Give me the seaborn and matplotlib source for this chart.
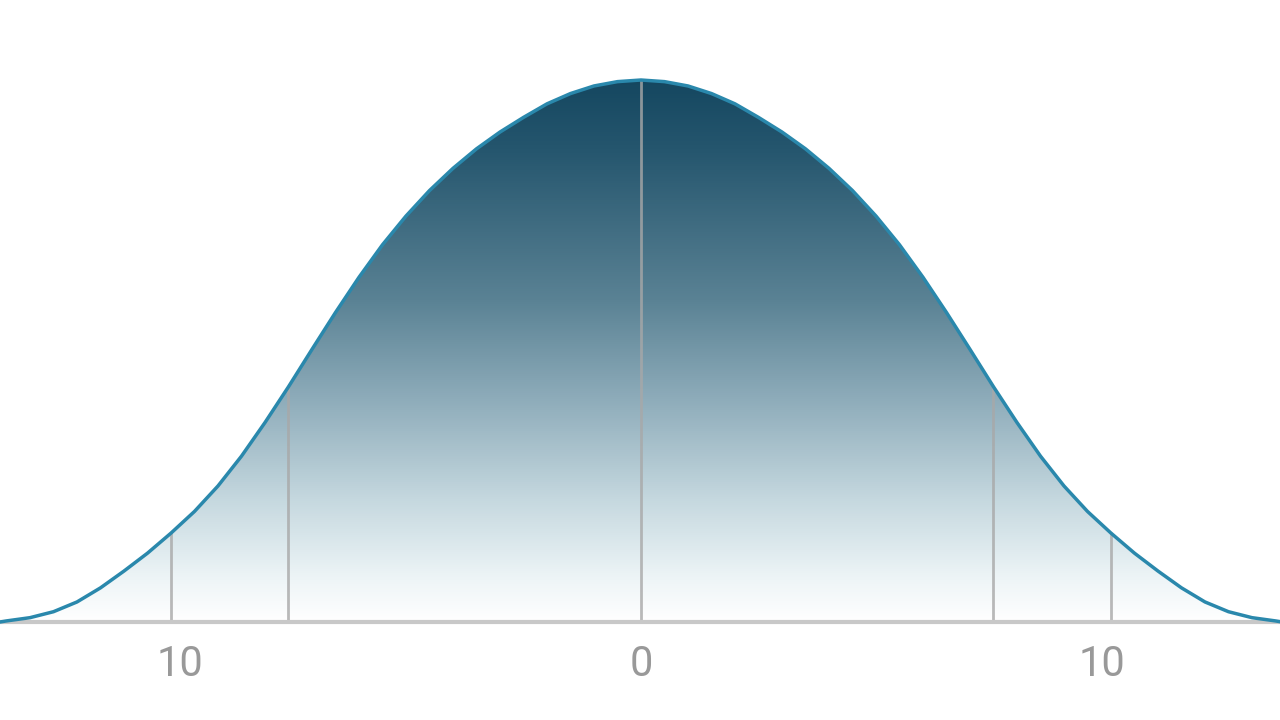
import numpy as np
import matplotlib
matplotlib.use("Agg")
import matplotlib.pyplot as plt
from matplotlib.colors import LinearSegmentedColormap
import pandas as pd
import seaborn as sns

# curve: x position vs relative height
x_vals = [-13.64, -13.5, -13.0, -12.5, -12.0, -11.5, -11.0, -10.5, -10.0, -9.5, -9.0,
          -8.5, -8.0, -7.5, -7.0, -6.5, -6.0, -5.5, -5.0, -4.5, -4.0, -3.5, -3.0,
          -2.5, -2.0, -1.5, -1.0, -0.5, 0.0, 0.5, 1.0, 1.5, 2.0, 2.5, 3.0, 3.5,
          4.0, 4.5, 5.0, 5.5, 6.0, 6.5, 7.0, 7.5, 8.0, 8.5, 9.0, 9.5, 10.0, 10.5,
          11.0, 11.5, 12.0, 12.5, 13.0, 13.5, 13.64]
y_vals = [0.0, 0.002, 0.008, 0.019, 0.037, 0.063, 0.094, 0.127, 0.164, 0.204,
          0.251, 0.306, 0.368, 0.434, 0.503, 0.571, 0.636, 0.696, 0.749,
          0.796, 0.837, 0.873, 0.904, 0.931, 0.956, 0.975, 0.989, 0.997,
          1.0, 0.997, 0.989, 0.975, 0.956, 0.931, 0.904, 0.873, 0.837,
          0.796, 0.749, 0.696, 0.636, 0.571, 0.503, 0.434, 0.368, 0.306,
          0.251, 0.204, 0.164, 0.127, 0.094, 0.063, 0.037, 0.019, 0.008,
          0.002, 0.0]

# vertical markers under the curve
marker_x = [-10.0, -7.5, 0.0, 7.5, 10.0]

# axis labels
label_x = [-9.8, 0.0, 9.8]
label_text = ["10", "0", "10"]

sns.set_theme(style="white")
plt.rcParams["font.family"] = ["Roboto", "DejaVu Sans"]

df = pd.DataFrame({"x": x_vals, "y": y_vals})

fig = plt.figure(figsize=(12.8, 7.2), dpi=100)
ax = fig.add_axes([0, 0, 1, 1])

# vertical gradient, dark at the top, white at the base
cmap = LinearSegmentedColormap.from_list(
    "bell",
    [(0.0, "#ffffff"), (0.077, "#eef5f7"), (0.225, "#c5d8df"), (0.41, "#8eacba"),
     (0.594, "#5a8294"), (0.871, "#25566e"), (1.0, "#154760")],
)
grad = np.linspace(0, 1, 512).reshape(-1, 1)
img = ax.imshow(grad, cmap=cmap, origin="lower", aspect="auto",
                extent=[min(x_vals), max(x_vals), 0, 1], zorder=1)
poly = ax.fill_between(df["x"], df["y"], 0, color="none", lw=0)
clip = poly.get_paths()[0]
img.set_clip_path(clip, transform=ax.transData)

# vertical lines from the base up to the curve
for mx in marker_x:
    top = y_vals[x_vals.index(mx)]
    ax.plot([mx, mx], [0, top], color="#a8a8a8", lw=2, alpha=0.8, zorder=2)

# baseline
ax.axhline(0, color="#c8c8c8", lw=3, zorder=3)

# the curve itself
sns.lineplot(data=df, x="x", y="y", ax=ax, color="#2a88ac", lw=2.5,
             sort=False, zorder=4)

for lx, lt in zip(label_x, label_text):
    ax.text(lx, -0.0775, lt, ha="center", va="center", fontsize=30,
            color="#999999")

ax.set_xlim(-13.638, 13.596)
ax.set_ylim(-0.1808, 1.1476)
ax.axis("off")
fig.savefig("out.png", dpi=100)
